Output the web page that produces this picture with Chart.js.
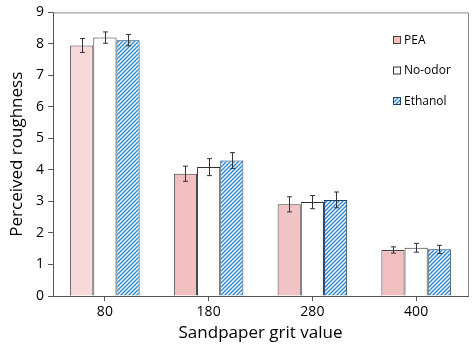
<!DOCTYPE html>
<html>
<head>
<meta charset="utf-8">
<script src="https://cdn.jsdelivr.net/npm/chart.js@4/dist/chart.umd.min.js"></script>
<style>
html, body { margin: 0; padding: 0; background: #fff; }
#wrap { width: 474px; height: 348px; }
</style>
</head>
<body>
<div id="wrap"><canvas id="c" width="474" height="348"></canvas></div>
<script>
// data
var grits = ["80", "180", "280", "400"];
var peaMean = [7.95, 3.88, 2.91, 1.46];
var peaErr = [0.22, 0.24, 0.24, 0.10];
var noOdorMean = [8.20, 4.09, 2.98, 1.53];
var noOdorErr = [0.18, 0.27, 0.21, 0.14];
var ethanolMean = [8.12, 4.30, 3.05, 1.48];
var ethanolErr = [0.18, 0.25, 0.25, 0.13];
var yTicks = [0, 1, 2, 3, 4, 5, 6, 7, 8, 9];

var FONT = "'Open Sans', 'Noto Sans', sans-serif";

function makeHatch() {
	var p = document.createElement("canvas");
	p.width = 4; p.height = 4;
	var g = p.getContext("2d");
	g.fillStyle = "#ffffff";
	g.fillRect(0, 0, 4, 4);
	g.strokeStyle = "#2a88d2";
	g.lineWidth = 1.4;
	g.beginPath();
	g.moveTo(-1, 5); g.lineTo(5, -1);
	g.moveTo(-1, 1); g.lineTo(1, -1);
	g.moveTo(3, 5); g.lineTo(5, 3);
	g.stroke();
	return document.getElementById("c").getContext("2d").createPattern(p, "repeat");
}
var hatch = makeHatch();

// error bars drawn through the y scale
var errorBars = {
	id: "errorBars",
	afterDatasetsDraw: function(chart) {
		var ctx = chart.ctx;
		var ys = chart.scales.y;
		ctx.save();
		ctx.strokeStyle = "#333";
		ctx.lineWidth = 1;
		chart.data.datasets.forEach(function(ds, di) {
			var meta = chart.getDatasetMeta(di);
			meta.data.forEach(function(bar, i) {
				var x = Math.round(bar.x) + 0.5;
				var hi = ys.getPixelForValue(ds.data[i] + ds.err[i]);
				var lo = ys.getPixelForValue(ds.data[i] - ds.err[i]);
				ctx.beginPath();
				ctx.moveTo(x, hi); ctx.lineTo(x, lo);
				ctx.moveTo(x - 2.5, hi); ctx.lineTo(x + 2.5, hi);
				ctx.moveTo(x - 2.5, lo); ctx.lineTo(x + 2.5, lo);
				ctx.stroke();
			});
		});
		ctx.restore();
	}
};

// frame on top and right
var frame = {
	id: "frame",
	beforeDatasetsDraw: function(chart) {
		var a = chart.chartArea;
		var ctx = chart.ctx;
		ctx.save();
		ctx.strokeStyle = "#888";
		ctx.lineWidth = 1;
		ctx.beginPath();
		ctx.moveTo(a.left, a.top + 0.5); ctx.lineTo(a.right + 0.5, a.top + 0.5);
		ctx.lineTo(a.right + 0.5, a.bottom);
		ctx.stroke();
		ctx.restore();
	}
};

// legend inside the plot
var innerLegend = {
	id: "innerLegend",
	afterDraw: function(chart) {
		var ctx = chart.ctx;
		var x = 393, y0 = 40, dy = 30.5;
		ctx.save();
		ctx.font = "12px " + FONT;
		ctx.textBaseline = "middle";
		chart.data.datasets.forEach(function(ds, i) {
			var y = y0 + i * dy;
			ctx.fillStyle = ds.legendFill;
			ctx.fillRect(x, y - 4, 8, 8);
			ctx.strokeStyle = ds.legendBorder;
			ctx.lineWidth = 1;
			ctx.strokeRect(x + 0.5, y - 3.5, 7, 7);
			ctx.fillStyle = "#000";
			ctx.fillText(ds.label, x + 11, y + 0.5);
		});
		ctx.restore();
	}
};

new Chart(document.getElementById("c"), {
	type: "bar",
	data: {
		labels: grits,
		datasets: [
			{
				label: "PEA",
				data: peaMean,
				err: peaErr,
				backgroundColor: ["#f8d9da", "#f2bfc0", "#f2c3c4", "#f2bfc0"],
				borderColor: "#444",
				legendFill: "#f2bfc0",
				legendBorder: "#444"
			},
			{
				label: "No-odor",
				data: noOdorMean,
				err: noOdorErr,
				backgroundColor: "#ffffff",
				borderColor: "#333",
				legendFill: "#ffffff",
				legendBorder: "#333"
			},
			{
				label: "Ethanol",
				data: ethanolMean,
				err: ethanolErr,
				backgroundColor: hatch,
				borderColor: "#1c4268",
				legendFill: hatch,
				legendBorder: "#1c4268"
			}
		]
	},
	options: {
		responsive: false,
		animation: false,
		devicePixelRatio: 1,
		layout: { padding: { top: 9, right: 6, left: 7, bottom: 5 } },
		datasets: {
			bar: {
				borderWidth: 1,
				categoryPercentage: 0.67,
				barPercentage: 1.0,
				borderSkipped: "bottom"
			}
		},
		plugins: {
			legend: { display: false },
			tooltip: { enabled: false }
		},
		scales: {
			x: {
				grid: {
					display: true,
					drawOnChartArea: false,
					offset: false,
					tickLength: 5,
					color: "#555"
				},
				border: { color: "#555", width: 1 },
				ticks: {
					color: "#000",
					font: { size: 14, family: FONT },
					padding: 3
				},
				title: {
					display: true,
					text: "Sandpaper grit value",
					color: "#000",
					font: { size: 17, family: FONT },
					padding: { top: 0, bottom: 0 }
				},
				afterFit: function(s) { s.height = 47; }
			},
			y: {
				min: 0,
				max: 9,
				afterBuildTicks: function(s) {
					s.ticks = yTicks.map(function(v) { return { value: v }; });
				},
				grid: {
					display: true,
					drawOnChartArea: false,
					tickLength: 5,
					color: "#555"
				},
				border: { color: "#555", width: 1 },
				ticks: {
					color: "#000",
					font: { size: 14, family: FONT },
					padding: 4
				},
				title: {
					display: true,
					text: "Perceived roughness",
					color: "#000",
					font: { size: 17, family: FONT },
					padding: { top: 0, bottom: 2 }
				},
				afterFit: function(s) { s.width = 46; }
			}
		}
	},
	plugins: [frame, errorBars, innerLegend]
});
</script>
</body>
</html>
